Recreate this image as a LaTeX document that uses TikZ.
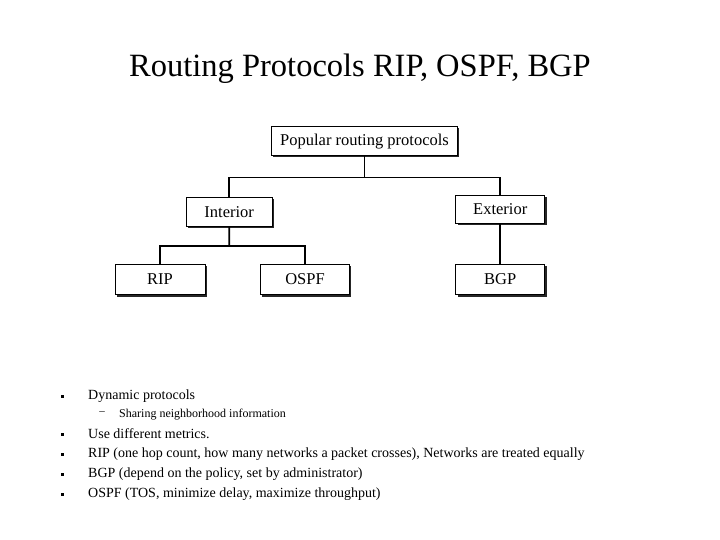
\documentclass[tikz,border=0pt]{standalone}
\usepackage{fontspec}
\setmainfont{Liberation Serif}
\usetikzlibrary{shadows}
\begin{document}
\begin{tikzpicture}[x=1pt,y=-1pt,
  box/.style={draw=black, line width=0.8pt, fill=white, inner sep=0pt, font=\fontsize{16.5}{19}\selectfont,
    drop shadow={shadow xshift=1.8pt, shadow yshift=-1.8pt, fill=black, opacity=0.85}},
  conn/.style={line width=1.6pt},
  bl/.style={anchor=west, inner sep=0pt, font=\fontsize{14}{16}\selectfont},
  bul/.style={fill=black, inner sep=0pt, minimum width=3pt, minimum height=3.5pt}]
\useasboundingbox (0,0) rectangle (720,540);
\node (title) at (360,69) {\fontsize{32.5}{36}\selectfont Routing Protocols RIP, OSPF, BGP};
\node[box, minimum width=186pt, minimum height=29pt] (pop) at (364.5,141.2) {Popular routing protocols};
\node[box, minimum width=86pt, minimum height=29pt] (int) at (229.2,211.8) {Interior};
\node[box, minimum width=89pt, minimum height=28pt] (ext) at (500.2,209) {Exterior};
\node[box, minimum width=90pt, minimum height=30.5pt] (rip) at (160,279.5) {RIP};
\node[box, minimum width=89pt, minimum height=30.5pt] (ospf) at (305,279.5) {OSPF};
\node[box, minimum width=89pt, minimum height=30.5pt] (bgp) at (500.2,279.5) {BGP};
\coordinate (j1) at (365.7,177.7);
\coordinate (j2) at (229.3,246);
\draw[conn] (pop.south) -- (pop.south |- j1);
\draw[conn] (int.north) |- (j1) -| (ext.north);
\draw[conn] (int.south) -- (j2);
\draw[conn] (rip.north) |- (j2) -| (ospf.north);
\draw[conn] (ext.south) -- (bgp.north);
% bullets
\node[bul] (b1) at (62,396.5) {};
\node[bl] (t1) at (88,396) {Dynamic protocols};
\node[inner sep=0pt, font=\fontsize{11}{12}\selectfont] (d1) at (102,413.5) {--};
\node[bl, font=\fontsize{12}{14}\selectfont] (t1a) at (119,414.5) {Sharing neighborhood information};
\node[bul] (b2) at (62,434.5) {};
\node[bl] (t2) at (88,434) {Use different metrics.};
\node[bul] (b3) at (62,454.5) {};
\node[bl] (t3) at (88,454) {RIP (one hop count, how many networks a packet crosses), Networks are treated equally};
\node[bul] (b4) at (62,474.5) {};
\node[bl] (t4) at (88,474) {BGP (depend on the policy, set by administrator)};
\node[bul] (b5) at (62,494.5) {};
\node[bl] (t5) at (88,494) {OSPF (TOS, minimize delay, maximize throughput)};
\end{tikzpicture}
\end{document}
